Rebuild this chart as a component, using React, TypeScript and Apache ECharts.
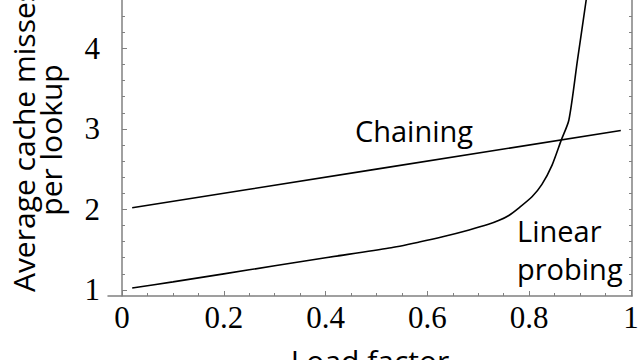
import React, { useEffect, useRef } from "react";
import * as echarts from "echarts";

// ---- data ----
const chainingAlpha = [0.02, 0.25, 0.5, 0.75, 0.98];
const chainingMisses = [2.02, 2.25, 2.5, 2.75, 2.98];

const probingAlpha = [
  0.02, 0.1, 0.2, 0.3, 0.4, 0.525, 0.584, 0.63, 0.682, 0.72, 0.741, 0.76, 0.78,
  0.806, 0.825, 0.845, 0.863, 0.878, 0.895, 0.912, 0.93,
];
const probingMisses = [
  1.025, 1.1, 1.2, 1.3, 1.4, 1.52, 1.595, 1.66, 1.745, 1.815, 1.865, 1.925,
  2.02, 2.16, 2.31, 2.55, 2.86, 3.11, 3.86, 4.6, 5.4,
];

const xMajorTicks = [0, 0.2, 0.4, 0.6, 0.8, 1];
const xMinorTicks = [
  0, 0.05, 0.1, 0.15, 0.2, 0.25, 0.3, 0.35, 0.4, 0.45, 0.5, 0.55, 0.6, 0.65,
  0.7, 0.75, 0.8, 0.85, 0.9, 0.95, 1,
];
const yMajorTicks = [1, 2, 3, 4];
const yMinorTicks = [
  1, 1.2, 1.4, 1.6, 1.8, 2, 2.2, 2.4, 2.6, 2.8, 3, 3.2, 3.4, 3.6, 3.8, 4, 4.2,
  4.4,
];
const xLabels = ["0", "0.2", "0.4", "0.6", "0.8", "1"];
const yLabels = ["1", "2", "3", "4"];

const AXIS = "#808080";
const SERIF = "Liberation Serif";
const SANS = "Open Sans";

export default function App() {
  const ref = useRef<HTMLDivElement>(null);
  useEffect(() => {
    if (!ref.current) return;
    const chart = echarts.init(ref.current, undefined, { renderer: "svg" });

    const xBase = {
      type: "value" as const,
      min: -0.0275,
      max: 1.002,
      position: "bottom" as const,
      splitLine: { show: false },
    };
    const yBase = {
      type: "value" as const,
      min: 0.925,
      max: 4.6,
      splitLine: { show: false },
    };

    chart.setOption({
      animation: false,
      backgroundColor: "#ffffff",
      grid: {
        left: 108,
        right: 8,
        top: 0,
        bottom: 64,
        containLabel: false,
        outerBoundsMode: "none",
      },
      xAxis: [
        {
          ...xBase,
          name: "Load factor",
          nameLocation: "middle",
          nameGap: 49,
          nameTextStyle: { fontFamily: SANS, fontSize: 30, color: "#000" },
          axisLine: { show: true, lineStyle: { color: AXIS, width: 1.5 } },
          axisTick: {
            show: true,
            inside: true,
            length: 3,
            customValues: xMinorTicks,
            lineStyle: { color: AXIS },
          },
          axisLabel: {
            show: true,
            customValues: xMajorTicks,
            formatter: (v: number) => xLabels[xMajorTicks.indexOf(v)] ?? "",
            fontFamily: SERIF,
            fontSize: 31,
            color: "#000",
            margin: 6,
          },
        },
        {
          ...xBase,
          axisLine: { show: false },
          axisLabel: { show: false },
          axisTick: {
            show: true,
            inside: true,
            length: 5,
            customValues: xMajorTicks,
            lineStyle: { color: AXIS },
          },
        },
      ],
      yAxis: [
        {
          ...yBase,
          position: "left",
          axisLine: { show: true, lineStyle: { color: AXIS, width: 1.5 } },
          axisTick: {
            show: true,
            inside: true,
            length: 3,
            customValues: yMinorTicks,
            lineStyle: { color: AXIS },
          },
          axisLabel: {
            show: true,
            customValues: yMajorTicks,
            formatter: (v: number) => yLabels[yMajorTicks.indexOf(v)] ?? "",
            fontFamily: SERIF,
            fontSize: 31,
            color: "#000",
            margin: 8,
          },
        },
        {
          ...yBase,
          position: "left",
          axisLine: { show: false },
          axisLabel: { show: false },
          axisTick: {
            show: true,
            inside: true,
            length: 5,
            customValues: yMajorTicks,
            lineStyle: { color: AXIS },
          },
        },
        {
          ...yBase,
          position: "right",
          axisLine: { show: true, lineStyle: { color: AXIS, width: 1.5 } },
          axisLabel: { show: false },
          axisTick: {
            show: true,
            inside: true,
            length: 3,
            customValues: yMinorTicks,
            lineStyle: { color: AXIS },
          },
        },
      ],
      graphic: [
        {
          type: "text",
          x: 37,
          y: 140,
          rotation: Math.PI / 2,
          style: {
            text: "Average cache misses\nper lookup",
            fontFamily: SANS,
            fontSize: 30,
            lineHeight: 27,
            align: "center",
            verticalAlign: "middle",
            fill: "#000",
          },
        },
        {
          type: "text",
          x: 414,
          y: 130,
          style: {
            text: "Chaining",
            fontFamily: SANS,
            fontSize: 29,
            align: "center",
            verticalAlign: "middle",
            fill: "#000",
          },
        },
        {
          type: "text",
          x: 517,
          y: 230,
          style: {
            text: "Linear",
            fontFamily: SANS,
            fontSize: 29,
            align: "left",
            verticalAlign: "middle",
            fill: "#000",
          },
        },
        {
          type: "text",
          x: 517,
          y: 268,
          style: {
            text: "probing",
            fontFamily: SANS,
            fontSize: 29,
            align: "left",
            verticalAlign: "middle",
            fill: "#000",
          },
        },
      ],
      series: [
        {
          name: "Chaining",
          type: "line",
          xAxisIndex: 0,
          yAxisIndex: 0,
          showSymbol: false,
          clip: true,
          lineStyle: { color: "#000", width: 1.6 },
          data: chainingAlpha.map((a, i) => [a, chainingMisses[i]]),
        },
        {
          name: "Linear probing",
          type: "line",
          xAxisIndex: 0,
          yAxisIndex: 0,
          showSymbol: false,
          clip: true,
          smooth: 0.25,
          lineStyle: { color: "#000", width: 1.6 },
          data: probingAlpha.map((a, i) => [a, probingMisses[i]]),
        },
      ],
    });
    return () => chart.dispose();
  }, []);
  return (
    <div
      ref={ref}
      style={{ position: "fixed", left: 0, top: 0, width: 640, height: 360 }}
    />
  );
}
